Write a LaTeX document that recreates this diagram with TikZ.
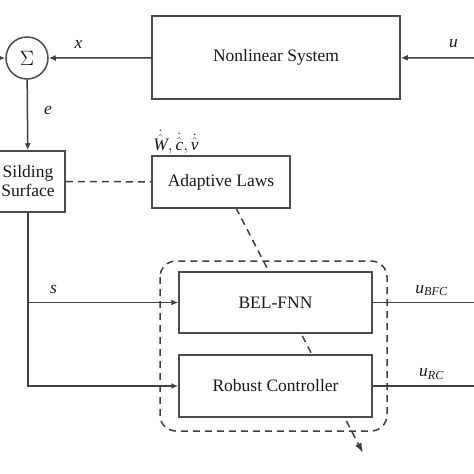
\documentclass[tikz,border=0pt]{standalone}
\usepackage{amsmath}
\usepackage{fontspec}
\setmainfont{Liberation Serif}
\usepackage{tikz}
\usetikzlibrary{backgrounds, arrows.meta}

\begin{document}
\begin{tikzpicture}[x=1pt, y=-1pt,
% Estilo de los bloques
bloque/.style={rectangle, inner sep=0pt, draw=black!70, line width=1.5pt, fill=white, text=black!90, font=\fontsize{17.5}{20}\selectfont},
% Estilo del sumador
sumador/.style={circle, inner sep=0pt, minimum size=42pt, draw=black!70, line width=1.5pt, fill=white, font=\fontsize{20}{22}\selectfont},
% Estilo de las flechas
flecha/.style={-{Latex[length=7pt, width=6pt]}, color=black!75, line width=1.5pt},
% Estilo de las lineas discontinuas
discont/.style={color=black!75, line width=1.5pt, dash pattern=on 7pt off 5pt},
% Estilo de las etiquetas
etiq/.style={font=\fontsize{17.5}{20}\selectfont, text=black!90, inner sep=0pt},
]
\useasboundingbox (0,0) rectangle (474,474);

% Nodos
\node (sum) at (27,58) [sumador]{$\Sigma$};
\node (nls) at (276,57.5) [bloque, minimum width=248pt, minimum height=83pt]{Nonlinear System};
\node (sil) at (28,181.5) [bloque, minimum width=74pt, minimum height=61pt, align=center]{Silding\\[-1pt]Surface};
\node (adapt) at (221,182) [bloque, minimum width=138pt, minimum height=52pt]{Adaptive Laws};
\node (bel) at (275.5,302.5) [bloque, minimum width=193pt, minimum height=61pt]{BEL-FNN};
\node (rob) at (275.5,386) [bloque, minimum width=193pt, minimum height=62pt]{Robust Controller};

% Coordenadas de los extremos
\coordinate (izq) at (0,58);
\coordinate (der) at (474,58);
\coordinate (ram) at (sil.south |- bel.west);
\coordinate (sbfc) at (474,302.5);
\coordinate (src) at (474,386);
\coordinate (ini) at (236,208);
\coordinate (fin) at (363,453);

% Recuadro discontinuo y flecha diagonal (al fondo)
\begin{scope}[on background layer]
\draw[discont, rounded corners=16pt] (160,261) rectangle (387,431);
\draw[discont, -{Latex[length=10pt, width=7pt]}] (ini) -- (fin);
\end{scope}

% Flechas
\draw[flecha] (izq) -- (sum);
\draw[flecha] (der) -- node[etiq, pos=0.28, above=9pt]{\textit{u}} (nls);
\draw[flecha] (nls) -- node[etiq, pos=0.71, above=9pt]{\textit{x}} (sum);
\draw[flecha] (sum) -- node[etiq, pos=0.44, right=16pt]{\textit{e}} (sil);
\draw[discont] (sil) -- (adapt);
\node[etiq] (leyes) at (176,142) {$\dot{\hat{\textit{W}}},\dot{\hat{\textit{c}}},\dot{\hat{\textit{v}}}$};
\draw[flecha] (sil.south) |- (rob.west);
\draw[flecha] (ram) -- node[etiq, pos=0.17, above=8pt]{\textit{s}} (bel.west);
\draw[color=black!75, line width=1.5pt] (bel.east) -- node[etiq, pos=0.58, above=6pt]{$\textit{u}_{\textit{BFC}}$} (sbfc);
\draw[color=black!75, line width=1.5pt] (rob.east) -- node[etiq, pos=0.58, above=6pt]{$\textit{u}_{\textit{RC}}$} (src);
\end{tikzpicture}
\end{document}
